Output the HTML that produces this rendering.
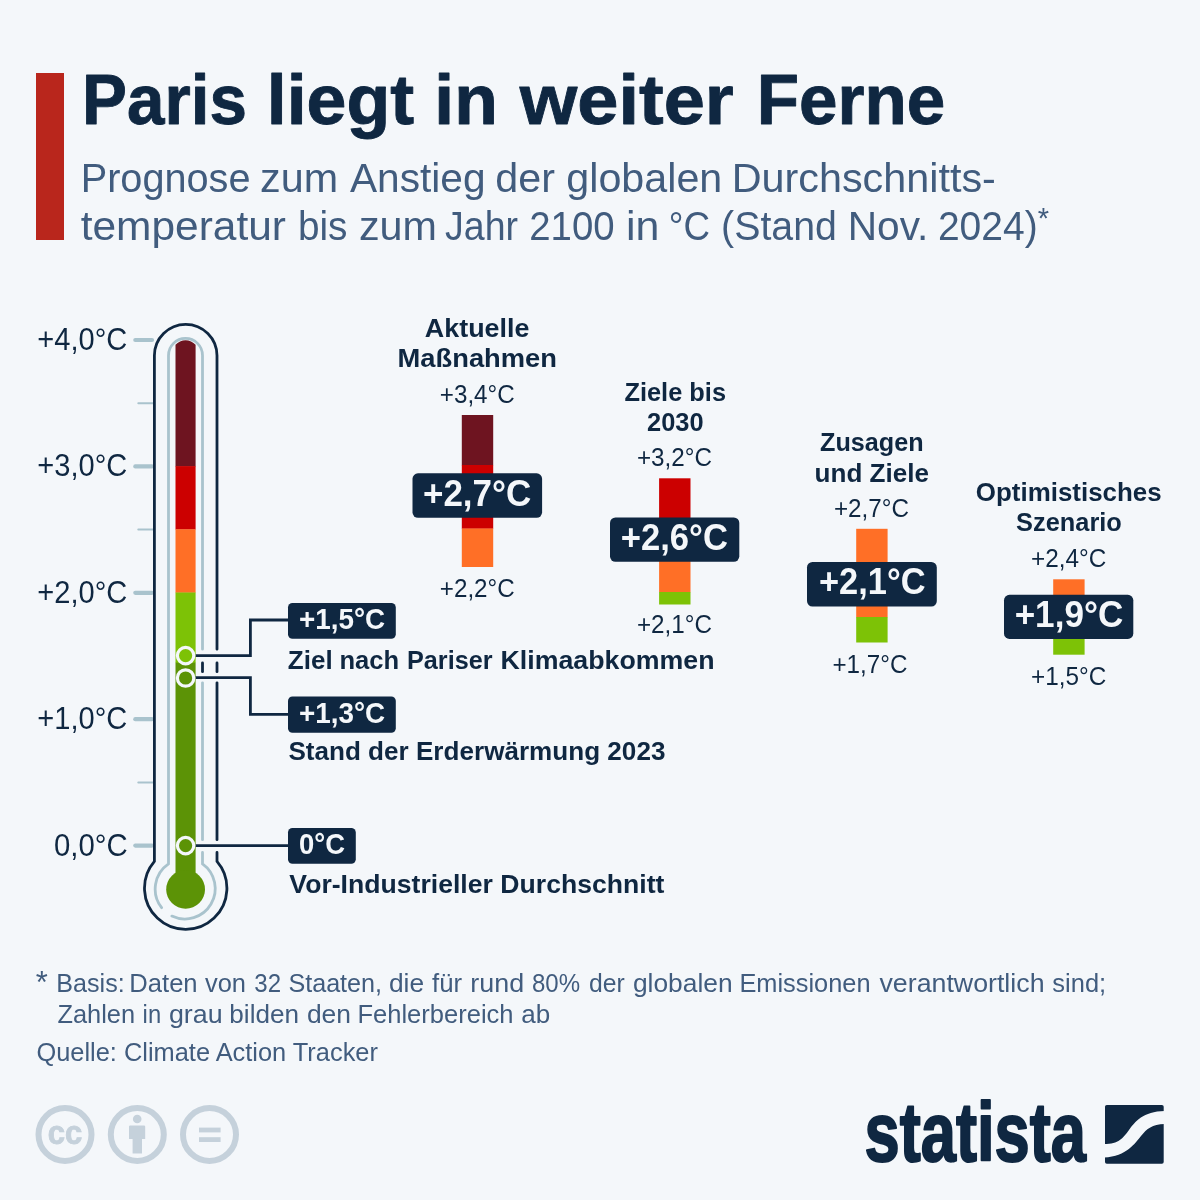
<!DOCTYPE html>
<html lang="de">
<head>
<meta charset="utf-8">
<title>Paris liegt in weiter Ferne</title>
<style>
html,body{margin:0;padding:0;background:#f4f7fa;}
body{width:1200px;height:1200px;overflow:hidden;font-family:"Liberation Sans",sans-serif;}
svg{display:block;}
svg text{font-family:"Liberation Sans",sans-serif;}
</style>
</head>
<body>
<svg width="1200" height="1200" viewBox="0 0 1200 1200">
<rect width="1200" height="1200" fill="#f4f7fa"/>

<rect x="36" y="73" width="28" height="167" fill="#b9261c"/>
<text y="123.5" font-size="69.6" font-weight="700" fill="#0f2741" stroke="#0f2741" stroke-width="0.9" stroke-linejoin="round"><tspan x="82.07" textLength="164.82" lengthAdjust="spacingAndGlyphs">Paris</tspan> <tspan x="266.75" textLength="147.25" lengthAdjust="spacingAndGlyphs">liegt</tspan> <tspan x="434.35" textLength="63.50" lengthAdjust="spacingAndGlyphs">in</tspan> <tspan x="519.77" textLength="213.85" lengthAdjust="spacingAndGlyphs">weiter</tspan> <tspan x="756.78" textLength="188.48" lengthAdjust="spacingAndGlyphs">Ferne</tspan></text>
<text y="191.7" font-size="41.3" fill="#415c7e"><tspan x="80.73" textLength="169.75" lengthAdjust="spacingAndGlyphs">Prognose</tspan> <tspan x="260.09" textLength="78.01" lengthAdjust="spacingAndGlyphs">zum</tspan> <tspan x="350.00" textLength="135.58" lengthAdjust="spacingAndGlyphs">Anstieg</tspan> <tspan x="495.37" textLength="59.63" lengthAdjust="spacingAndGlyphs">der</tspan> <tspan x="566.32" textLength="155.95" lengthAdjust="spacingAndGlyphs">globalen</tspan> <tspan x="731.73" textLength="264.12" lengthAdjust="spacingAndGlyphs">Durchschnitts-</tspan></text>
<text y="239.8" font-size="41.3" fill="#415c7e"><tspan x="80.67" textLength="205.33" lengthAdjust="spacingAndGlyphs">temperatur</tspan> <tspan x="297.88" textLength="49.57" lengthAdjust="spacingAndGlyphs">bis</tspan> <tspan x="358.95" textLength="78.01" lengthAdjust="spacingAndGlyphs">zum</tspan> <tspan x="445.00" textLength="73.00" lengthAdjust="spacingAndGlyphs">Jahr</tspan> <tspan x="529.26" textLength="85.31" lengthAdjust="spacingAndGlyphs">2100</tspan> <tspan x="625.95" textLength="33.45" lengthAdjust="spacingAndGlyphs">in</tspan> <tspan x="668.79" textLength="41.17" lengthAdjust="spacingAndGlyphs">°C</tspan> <tspan x="721.11" textLength="115.77" lengthAdjust="spacingAndGlyphs">(Stand</tspan> <tspan x="847.74" textLength="80.53" lengthAdjust="spacingAndGlyphs">Nov.</tspan> <tspan x="937.91" textLength="99.76" lengthAdjust="spacingAndGlyphs">2024)</tspan></text>
<text x="1037.8" y="227.5" font-size="29" fill="#415c7e">*</text>
<text x="37.27" y="349.8" font-size="31.5" fill="#0f2741" textLength="90.01" lengthAdjust="spacingAndGlyphs">+4,0°C</text>
<line x1="135.3" y1="340.0" x2="152" y2="340.0" stroke="#a9c3cd" stroke-width="4.2" stroke-linecap="round"/>
<text x="37.27" y="476.2" font-size="31.5" fill="#0f2741" textLength="90.01" lengthAdjust="spacingAndGlyphs">+3,0°C</text>
<line x1="135.3" y1="466.4" x2="152" y2="466.4" stroke="#a9c3cd" stroke-width="4.2" stroke-linecap="round"/>
<text x="37.27" y="602.6" font-size="31.5" fill="#0f2741" textLength="90.01" lengthAdjust="spacingAndGlyphs">+2,0°C</text>
<line x1="135.3" y1="592.8" x2="152" y2="592.8" stroke="#a9c3cd" stroke-width="4.2" stroke-linecap="round"/>
<text x="37.27" y="729.0" font-size="31.5" fill="#0f2741" textLength="90.01" lengthAdjust="spacingAndGlyphs">+1,0°C</text>
<line x1="135.3" y1="719.2" x2="152" y2="719.2" stroke="#a9c3cd" stroke-width="4.2" stroke-linecap="round"/>
<text x="53.97" y="856.2" font-size="31.5" fill="#0f2741" textLength="73.72" lengthAdjust="spacingAndGlyphs">0,0°C</text>
<line x1="135.3" y1="845.6" x2="152" y2="845.6" stroke="#a9c3cd" stroke-width="4.2" stroke-linecap="round"/>
<line x1="138.3" y1="403.2" x2="153" y2="403.2" stroke="#a9c3cd" stroke-width="2" stroke-linecap="round"/>
<line x1="138.3" y1="529.6" x2="153" y2="529.6" stroke="#a9c3cd" stroke-width="2" stroke-linecap="round"/>
<line x1="138.3" y1="782.4" x2="153" y2="782.4" stroke="#a9c3cd" stroke-width="2" stroke-linecap="round"/>
<path d="M175.5,466.4 V344.8 A13.4,13.4 0 0 1 195.6,344.8 V466.4 Z" fill="#6e1420"/>
<rect x="175.5" y="466.1" width="20.1" height="63.5" fill="#cc0000"/>
<rect x="175.5" y="529.3" width="20.1" height="63.5" fill="#ff6f26"/>
<rect x="175.5" y="592.5" width="20.1" height="70.5" fill="#7dc206"/>
<rect x="175.5" y="662.7" width="20.1" height="222.3" fill="#5c9306"/>
<circle cx="185.6" cy="889.4" r="19.4" fill="#5c9306"/>
<g fill="none" stroke="#a9c3cd" stroke-width="2.8" stroke-linecap="round" stroke-linejoin="round">
<path d="M161.6,907.7 A30.4,30.4 0 0 1 168.5,863.9 V355.4 A17,17 0 0 1 202.5,355.4 V649.2"/>
<path d="M202.5,682.8 V839.7"/>
<path d="M202.5,852.5 V863.9 A30.4,30.4 0 0 1 171.8,916.1"/>
</g>
<g fill="none" stroke="#0f2741" stroke-width="2.8" stroke-linecap="round" stroke-linejoin="round">
<path d="M217.0,649.2 V355.6 A31.3,31.3 0 0 0 154.4,355.6 V861.4 A41.2,41.2 0 1 0 217.0,861.4 V852.5"/>
<path d="M217.0,682.8 V839.7"/>
<path d="M217.0,663 V671.7"/><path d="M202.5,663 V671.7"/>
<path d="M195.6,655.7 H250.4 V620 H289" stroke-linecap="butt" stroke-linejoin="miter"/>
<path d="M195.6,677.6 H250.4 V714.3 H289" stroke-linecap="butt" stroke-linejoin="miter"/>
<path d="M195.6,845.6 H289" stroke-linecap="butt"/>
</g>
<circle cx="185.6" cy="655.6" r="8.2" fill="#7dc206" stroke="#f4f7fa" stroke-width="3.2"/>
<circle cx="185.6" cy="678" r="8.2" fill="#5c9306" stroke="#f4f7fa" stroke-width="3.2"/>
<circle cx="185.6" cy="845.6" r="8.2" fill="#5c9306" stroke="#f4f7fa" stroke-width="3.2"/>
<rect x="288.0" y="603.0" width="107.8" height="35.8" rx="4.5" fill="#0f2741"/>
<text x="298.97" y="629.2" font-size="29.6" font-weight="700" fill="#f4f7fa" textLength="86.22" lengthAdjust="spacingAndGlyphs">+1,5°C</text>
<rect x="288.0" y="696.5" width="107.8" height="36.3" rx="4.5" fill="#0f2741"/>
<text x="298.97" y="723.1" font-size="29.6" font-weight="700" fill="#f4f7fa" textLength="86.22" lengthAdjust="spacingAndGlyphs">+1,3°C</text>
<rect x="288.0" y="828.0" width="67.8" height="35.8" rx="4.5" fill="#0f2741"/>
<text x="298.95" y="854.2" font-size="29.6" font-weight="700" fill="#f4f7fa" textLength="46.10" lengthAdjust="spacingAndGlyphs">0°C</text>
<text y="668.8" font-size="26.2" font-weight="700" fill="#0f2741"><tspan x="287.84" textLength="44.81" lengthAdjust="spacingAndGlyphs">Ziel</tspan> <tspan x="339.43" textLength="59.69" lengthAdjust="spacingAndGlyphs">nach</tspan> <tspan x="406.98" textLength="85.57" lengthAdjust="spacingAndGlyphs">Pariser</tspan> <tspan x="500.48" textLength="214.05" lengthAdjust="spacingAndGlyphs">Klimaabkommen</tspan></text>
<text x="288.38" y="760.4" font-size="26.2" font-weight="700" fill="#0f2741" textLength="377.03" lengthAdjust="spacingAndGlyphs">Stand der Erderwärmung 2023</text>
<text x="289.39" y="892.5" font-size="26.2" font-weight="700" fill="#0f2741" textLength="375.03" lengthAdjust="spacingAndGlyphs">Vor-Industrieller Durchschnitt</text>
<rect x="461.8" y="415.0" width="31.4" height="50.3" fill="#6e1420"/>
<rect x="461.8" y="465.0" width="31.4" height="63.8" fill="#cc0000"/>
<rect x="461.8" y="528.5" width="31.4" height="38.5" fill="#ff6f26"/>
<rect x="412.5" y="473.3" width="129.6" height="44.5" rx="5.5" fill="#0f2741"/>
<text x="422.95" y="505.6" font-size="37.6" font-weight="700" fill="#f4f7fa" textLength="108.40" lengthAdjust="spacingAndGlyphs">+2,7°C</text>
<text x="424.84" y="336.5" font-size="25.8" font-weight="700" fill="#0f2741" textLength="104.60" lengthAdjust="spacingAndGlyphs">Aktuelle</text>
<text x="397.54" y="367.2" font-size="25.8" font-weight="700" fill="#0f2741" textLength="159.47" lengthAdjust="spacingAndGlyphs">Maßnahmen</text>
<text x="439.82" y="402.7" font-size="25.8" fill="#0f2741" textLength="74.92" lengthAdjust="spacingAndGlyphs">+3,4°C</text>
<text x="439.82" y="596.5" font-size="25.8" fill="#0f2741" textLength="74.92" lengthAdjust="spacingAndGlyphs">+2,2°C</text>
<rect x="659.1" y="478.3" width="31.4" height="51.7" fill="#cc0000"/>
<rect x="659.1" y="529.7" width="31.4" height="62.6" fill="#ff6f26"/>
<rect x="659.1" y="592.0" width="31.4" height="12.5" fill="#7dc206"/>
<rect x="610.0" y="517.5" width="129.3" height="44.3" rx="5.5" fill="#0f2741"/>
<text x="620.81" y="549.5" font-size="37.6" font-weight="700" fill="#f4f7fa" textLength="107.16" lengthAdjust="spacingAndGlyphs">+2,6°C</text>
<text x="624.43" y="400.8" font-size="25.8" font-weight="700" fill="#0f2741" textLength="101.58" lengthAdjust="spacingAndGlyphs">Ziele bis</text>
<text x="647.00" y="430.8" font-size="25.8" font-weight="700" fill="#0f2741" textLength="56.55" lengthAdjust="spacingAndGlyphs">2030</text>
<text x="636.98" y="466.3" font-size="25.8" fill="#0f2741" textLength="75.00" lengthAdjust="spacingAndGlyphs">+3,2°C</text>
<text x="636.98" y="633.3" font-size="25.8" fill="#0f2741" textLength="75.00" lengthAdjust="spacingAndGlyphs">+2,1°C</text>
<rect x="856.2" y="528.8" width="31.4" height="88.5" fill="#ff6f26"/>
<rect x="856.2" y="617.0" width="31.4" height="25.5" fill="#7dc206"/>
<rect x="807.0" y="562.0" width="129.8" height="44.6" rx="5.5" fill="#0f2741"/>
<text x="819.01" y="594.3" font-size="37.6" font-weight="700" fill="#f4f7fa" textLength="106.54" lengthAdjust="spacingAndGlyphs">+2,1°C</text>
<text x="820.00" y="451.3" font-size="25.8" font-weight="700" fill="#0f2741" textLength="103.58" lengthAdjust="spacingAndGlyphs">Zusagen</text>
<text x="814.57" y="481.6" font-size="25.8" font-weight="700" fill="#0f2741" textLength="114.45" lengthAdjust="spacingAndGlyphs">und Ziele</text>
<text x="833.98" y="516.8" font-size="25.8" fill="#0f2741" textLength="75.00" lengthAdjust="spacingAndGlyphs">+2,7°C</text>
<text x="832.43" y="672.5" font-size="25.8" fill="#0f2741" textLength="74.98" lengthAdjust="spacingAndGlyphs">+1,7°C</text>
<rect x="1053.2" y="579.3" width="31.4" height="37.7" fill="#ff6f26"/>
<rect x="1053.2" y="616.7" width="31.4" height="38.0" fill="#7dc206"/>
<rect x="1004.0" y="594.8" width="129.3" height="44.1" rx="5.5" fill="#0f2741"/>
<text x="1014.63" y="626.9" font-size="37.6" font-weight="700" fill="#f4f7fa" textLength="108.66" lengthAdjust="spacingAndGlyphs">+1,9°C</text>
<text x="975.89" y="500.9" font-size="25.8" font-weight="700" fill="#0f2741" textLength="185.83" lengthAdjust="spacingAndGlyphs">Optimistisches</text>
<text x="1016.08" y="531.0" font-size="25.8" font-weight="700" fill="#0f2741" textLength="105.74" lengthAdjust="spacingAndGlyphs">Szenario</text>
<text x="1030.94" y="567.0" font-size="25.8" fill="#0f2741" textLength="75.25" lengthAdjust="spacingAndGlyphs">+2,4°C</text>
<text x="1030.94" y="685.1" font-size="25.8" fill="#0f2741" textLength="75.25" lengthAdjust="spacingAndGlyphs">+1,5°C</text>
<text x="35.8" y="992.5" font-size="31" fill="#415c7e">*</text>
<text y="991.7" font-size="25" fill="#415c7e"><tspan x="56.32" textLength="68.37" lengthAdjust="spacingAndGlyphs">Basis:</tspan> <tspan x="129.35" textLength="68.26" lengthAdjust="spacingAndGlyphs">Daten</tspan> <tspan x="205.00" textLength="41.03" lengthAdjust="spacingAndGlyphs">von</tspan> <tspan x="254.26" textLength="26.79" lengthAdjust="spacingAndGlyphs">32</tspan> <tspan x="288.42" textLength="93.65" lengthAdjust="spacingAndGlyphs">Staaten,</tspan> <tspan x="388.94" textLength="35.13" lengthAdjust="spacingAndGlyphs">die</tspan> <tspan x="432.00" textLength="30.00" lengthAdjust="spacingAndGlyphs">für</tspan> <tspan x="470.32" textLength="53.80" lengthAdjust="spacingAndGlyphs">rund</tspan> <tspan x="531.98" textLength="48.07" lengthAdjust="spacingAndGlyphs">80%</tspan> <tspan x="588.96" textLength="35.71" lengthAdjust="spacingAndGlyphs">der</tspan> <tspan x="632.96" textLength="99.62" lengthAdjust="spacingAndGlyphs">globalen</tspan> <tspan x="739.42" textLength="131.14" lengthAdjust="spacingAndGlyphs">Emissionen</tspan> <tspan x="879.48" textLength="165.05" lengthAdjust="spacingAndGlyphs">verantwortlich</tspan> <tspan x="1052.37" textLength="53.75" lengthAdjust="spacingAndGlyphs">sind;</tspan></text>
<text y="1023.3" font-size="25" fill="#415c7e"><tspan x="57.43" textLength="77.63" lengthAdjust="spacingAndGlyphs">Zahlen</tspan> <tspan x="142.61" textLength="18.53" lengthAdjust="spacingAndGlyphs">in</tspan> <tspan x="168.95" textLength="53.70" lengthAdjust="spacingAndGlyphs">grau</tspan> <tspan x="229.37" textLength="69.66" lengthAdjust="spacingAndGlyphs">bilden</tspan> <tspan x="306.91" textLength="44.14" lengthAdjust="spacingAndGlyphs">den</tspan> <tspan x="357.47" textLength="156.06" lengthAdjust="spacingAndGlyphs">Fehlerbereich</tspan> <tspan x="521.26" textLength="28.93" lengthAdjust="spacingAndGlyphs">ab</tspan></text>
<text x="36.48" y="1061.4" font-size="25" fill="#415c7e" textLength="341.43" lengthAdjust="spacingAndGlyphs">Quelle: Climate Action Tracker</text>
<circle cx="65" cy="1134.5" r="26.5" fill="none" stroke="#c5d1db" stroke-width="6"/>
<circle cx="137.3" cy="1134.5" r="26.5" fill="none" stroke="#c5d1db" stroke-width="6"/>
<circle cx="209.5" cy="1134.5" r="26.5" fill="none" stroke="#c5d1db" stroke-width="6"/>
<text x="65.1" y="1143.8" font-size="33" font-weight="700" fill="#c5d1db" stroke="#c5d1db" stroke-width="0.9" text-anchor="middle" textLength="34.5" lengthAdjust="spacingAndGlyphs">cc</text>
<circle cx="137.2" cy="1119" r="4.3" fill="#c5d1db"/>
<path d="M130.2,1125.4 H144 Q145.2,1125.4 145.2,1126.6 V1139 H142 V1153.6 H132.6 V1139 H129 V1126.6 Q129,1125.4 130.2,1125.4 Z" fill="#c5d1db"/>
<rect x="199" y="1127.6" width="21.6" height="4.8" fill="#c5d1db"/><rect x="199" y="1137.2" width="21.6" height="4.8" fill="#c5d1db"/>
<text x="864.5" y="1161" font-size="82.5" font-weight="700" fill="#0f2741" stroke="#0f2741" stroke-width="2" stroke-linejoin="round" textLength="221.4" lengthAdjust="spacingAndGlyphs">statista</text>
<g transform="translate(1105,1105)"><rect width="58.7" height="58.7" rx="1.8" fill="#0f2741"/>
<path d="M-1,39.1 C14,39 18,33 24,25 S38,6.5 59.7,6.1 V19.1 C47,19.3 42,24 36,31 S22,51.5 -1,52.5 Z" fill="#f4f7fa"/></g>
</svg>
</body>
</html>
